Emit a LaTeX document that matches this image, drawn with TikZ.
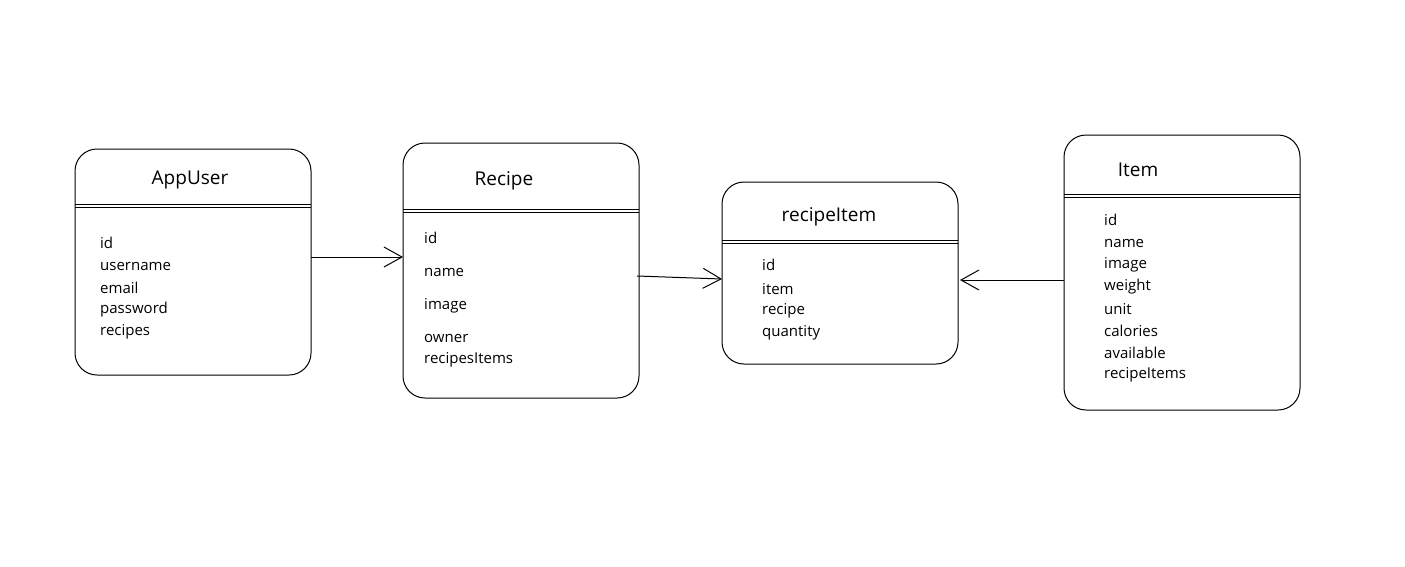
\documentclass[tikz,border=0pt]{standalone}
\usepackage{fontspec}
\setmainfont{Open Sans}
\usetikzlibrary{arrows.meta}
\begin{document}
\begin{tikzpicture}[x=1pt,y=-1pt,
  box/.style={draw,line width=1pt,rounded corners=22pt},
  sep/.style={draw,line width=1pt},
  title/.style={font=\fontsize{19}{22}\selectfont},
  fld/.style={anchor=west,font=\fontsize{15}{18}\selectfont,inner sep=0pt},
  arr/.style={draw,line width=1pt,-{Straight Barb[length=18pt,width=20pt,line width=1pt]}}]
\useasboundingbox (0,0) rectangle (1405,566);
% AppUser
\draw[box] (75,149) rectangle (311,375);
\draw[sep] (75,204) -- (311,204) (75,207) -- (311,207);
\node[title] (tA) at (190,180) {AppUser};
\foreach \t/\y [count=\i] in {id/243,username/266,email/288,password/310,recipes/332}
  \node[fld] (a\i) at (100,\y) {\t};
% Recipe
\draw[box] (403,143) rectangle (639,398);
\draw[sep] (403,209) -- (639,209) (403,212) -- (639,212);
\node[title] (tR) at (504,181) {Recipe};
\foreach \t/\y [count=\i] in {id/238,name/272,image/306,owner/338,recipesItems/360}
  \node[fld] (r\i) at (424,\y) {\t};
% recipeItem
\draw[box] (722,182) rectangle (958,364);
\draw[sep] (722,240) -- (958,240) (722,243) -- (958,243);
\node[title] (tRI) at (829,217) {recipeItem};
\foreach \t/\y [count=\i] in {id/265,item/289,recipe/311,quantity/333}
  \node[fld] (ri\i) at (762,\y) {\t};
% Item
\draw[box] (1064,135) rectangle (1300,410);
\draw[sep] (1064,194) -- (1300,194) (1064,197) -- (1300,197);
\node[title] (tI) at (1138,170) {Item};
\foreach \t/\y [count=\i] in {id/220,name/243,image/265,weight/287,unit/309,calories/331,available/353,recipeItems/375}
  \node[fld] (i\i) at (1104,\y) {\t};
% connectors
\coordinate (p1) at (311,257); \coordinate (q1) at (403,257);
\coordinate (p2) at (637,276); \coordinate (q2) at (722,279);
\coordinate (p3) at (1064,280); \coordinate (q3) at (960,280);
\draw[arr] (p1) -- (q1);
\draw[arr] (p2) -- (q2);
\draw[arr] (p3) -- (q3);
\end{tikzpicture}
\end{document}
